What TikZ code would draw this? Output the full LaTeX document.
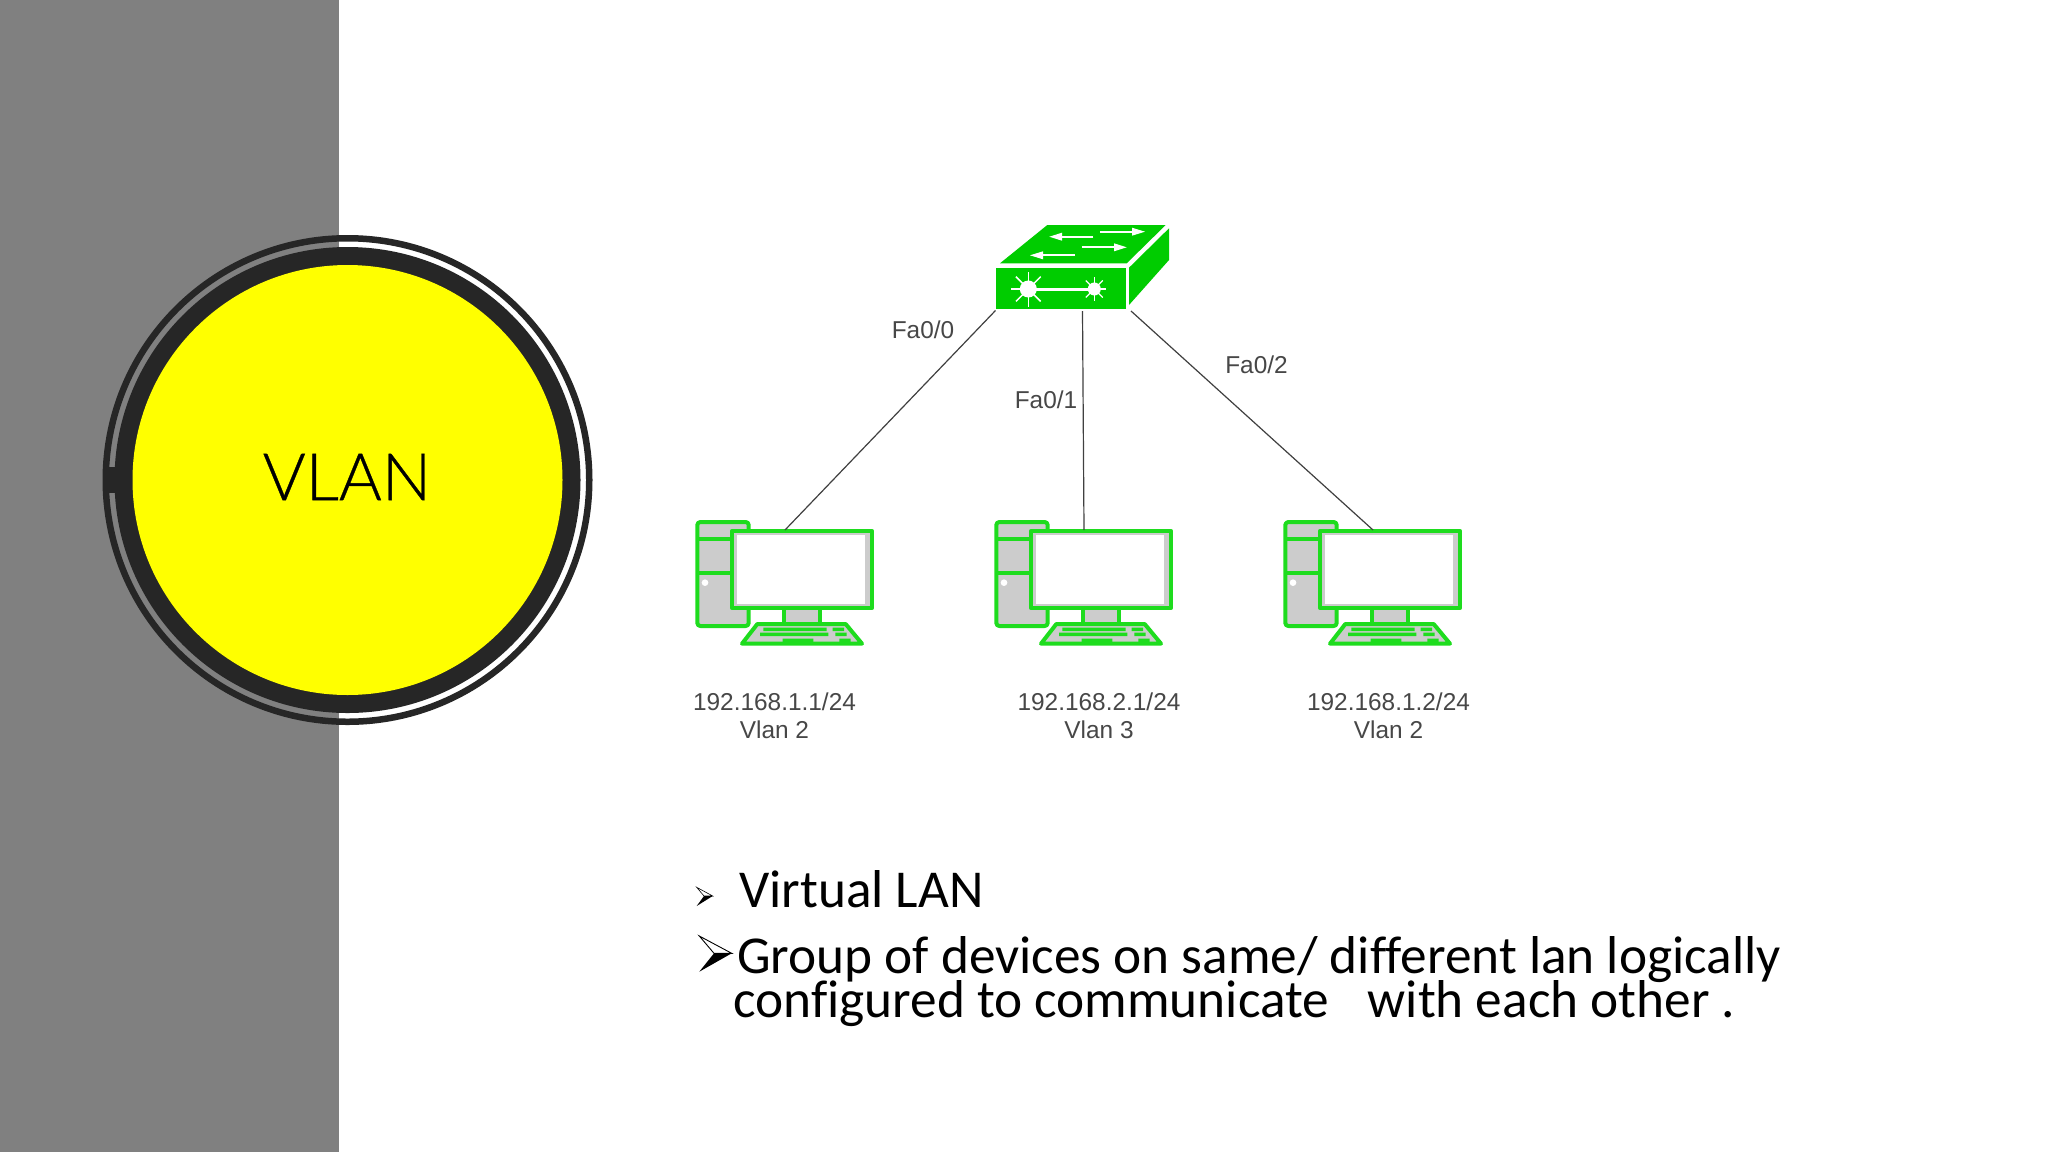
\documentclass[tikz,border=0pt]{standalone}
\usepackage{fontspec}
\setmainfont[Ligatures=NoCommon]{Carlito}
\newfontfamily\arialf{Liberation Sans}
\newfontfamily\lightf[FakeBold=0.5]{Lato Light}
\definecolor{sidegrey}{HTML}{808080}
\definecolor{ringdark}{HTML}{262626}
\definecolor{swgreen}{HTML}{00CC00}
\definecolor{pcgreen}{HTML}{1EDC1E}
\definecolor{pcgrey}{HTML}{CCCCCC}
\definecolor{discyellow}{HTML}{FFFF00}
\tikzset{
  x=1pt,y=-1pt,
  link/.style={draw=black!75,line width=1.2pt},
  netlabel/.style={font=\arialf\fontsize{24.4}{24.4}\selectfont,text=black!72,anchor=center,inner sep=0},
  pcline/.style={draw=pcgreen,line width=4pt,line join=round},
  bodytext/.style={font=\fontsize{53.3}{53.3}\selectfont,text=black,anchor=base west,inner sep=0},
  swwhite/.style={draw=white,line width=1.8pt},
  swhead/.style={fill=white,draw=none},
  pc/.pic={
    \begin{scope}[scale=1/3]
      \path[pcline,fill=pcgrey,rounded corners=3pt] (52,66) rectangle (206,378);
      \draw[pcline] (52,117) -- (155,117);
      \draw[pcline] (52,220) -- (155,220);
      \fill[white] (75,248) circle (10);
      \path[pcline,fill=pcgrey] (157,92) rectangle (575,325);
      \fill[white] (172,106) rectangle (556,311);
      \path[pcline,fill=pcgrey] (313,325) rectangle (420,372);
      \path[pcline,fill=pcgrey] (232,372) -- (497,372) -- (546,431) -- (186,431) -- cycle;
      \fill[pcgreen] (250,383) rectangle (440,393) (458,383) rectangle (492,393)
        (240,398) rectangle (445,408) (466,398) rectangle (500,408)
        (308,416) rectangle (400,426) (478,416) rectangle (512,426);
      \coordinate (-top) at (315,90);
    \end{scope}
  }
}
\begin{document}
\begin{tikzpicture}
\useasboundingbox (0,0) rectangle (2048,1152);
\fill[white] (0,0) rectangle (2048,1152);
\fill[sidegrey] (0,0) rectangle (338.5,1152);
% circle with rings
\fill[ringdark,even odd rule] (347.5,480) circle (245) (347.5,480) circle (238.5);
\fill[ringdark] (347.5,480) circle (233);
\fill[ringdark] (104,467) rectangle (120,493);
\fill[discyellow] (347.5,480) circle (215);
\node[font=\lightf\fontsize{65.5}{65.5}\selectfont,inner sep=0] (title) at (347,477) {VLAN};
% switch
\fill[swgreen] (1000,263.3) -- (1047.3,225) -- (1165.7,225) -- (1126.7,263.3) -- cycle;
\fill[swgreen] (1129,267.7) -- (1169,228.3) -- (1169,260) -- (1129,305) -- cycle;
\node[fill=swgreen,minimum width=130pt,minimum height=41.3pt,inner sep=0,draw=none] (sw) at (1060.7,288.4) {};
\draw[swwhite] (1093.3,236.7) -- (1060,236.7);
\fill[swhead] (1049.3,236.7) -- (1062,232.7) -- (1062,240.7) -- cycle;
\draw[swwhite] (1100,231.7) -- (1135,231.7);
\fill[swhead] (1145,231.7) -- (1132,227.7) -- (1132,235.7) -- cycle;
\draw[swwhite] (1081.7,247.3) -- (1116,247.3);
\fill[swhead] (1126.7,247.3) -- (1114,243.3) -- (1114,251.3) -- cycle;
\draw[swwhite] (1075,255.3) -- (1041,255.3);
\fill[swhead] (1030,255.3) -- (1043,251.3) -- (1043,259.3) -- cycle;
\draw[white,line width=3pt] (1028.3,289) -- (1094.3,289);
\fill[white] (1028.3,289) circle (8.5) (1094.3,289) circle (6.5);
\foreach \a in {0,45,...,315}{
  \draw[white,line width=1.5pt] (1028.3,289) -- ++(\a:17.5);
  \draw[white,line width=1.2pt] (1094.3,289) -- ++(\a:12);
}
\coordinate (swL) at (995.5,310.5);
\coordinate (swM) at (1082.5,311);
\coordinate (swR) at (1131,311);
% computers
\pic (pc1) at (680,500) {pc};
\pic (pc2) at (979,500) {pc};
\pic (pc3) at (1268,500) {pc};
\draw[link] (swL) -- (pc1-top);
\draw[link] (swM) -- (pc2-top);
\draw[link] (swR) -- (pc3-top);
% labels
\node[netlabel] (l0) at (923,329.5) {Fa0/0};
\node[netlabel] (l1) at (1046,400) {Fa0/1};
\node[netlabel] (l2) at (1256.5,364.5) {Fa0/2};
\node[netlabel] (ip1) at (774.5,701.5) {192.168.1.1/24};
\node[netlabel] (vl1) at (774.5,729.5) {Vlan 2};
\node[netlabel] (ip2) at (1099,701.5) {192.168.2.1/24};
\node[netlabel] (vl2) at (1099,729.5) {Vlan 3};
\node[netlabel] (ip3) at (1388.5,701.5) {192.168.1.2/24};
\node[netlabel] (vl3) at (1388.5,729.5) {Vlan 2};
% bullets
\draw[black,line width=0.6pt,line join=miter] (696.7,887.3) -- (712.7,896) -- (704,896) -- cycle;
\fill[black] (696.7,906) -- (712.7,896) -- (704,896) -- cycle;
\draw[black,line width=0.9pt,line join=miter] (699.3,936) -- (731.7,953.3) -- (714,953.3) -- cycle;
\fill[black] (699.3,971.7) -- (731.7,953.3) -- (714,953.3) -- cycle;
% text
\node[bodytext] (t1) at (739,907) {Virtual LAN};
\node[bodytext] (t2) at (737,973) {Group of devices on same/ different lan logically};
\node[bodytext] (t3) at (733,1017.5) {configured to communicate\hspace{0.5em} with each other .};
\end{tikzpicture}
\end{document}
